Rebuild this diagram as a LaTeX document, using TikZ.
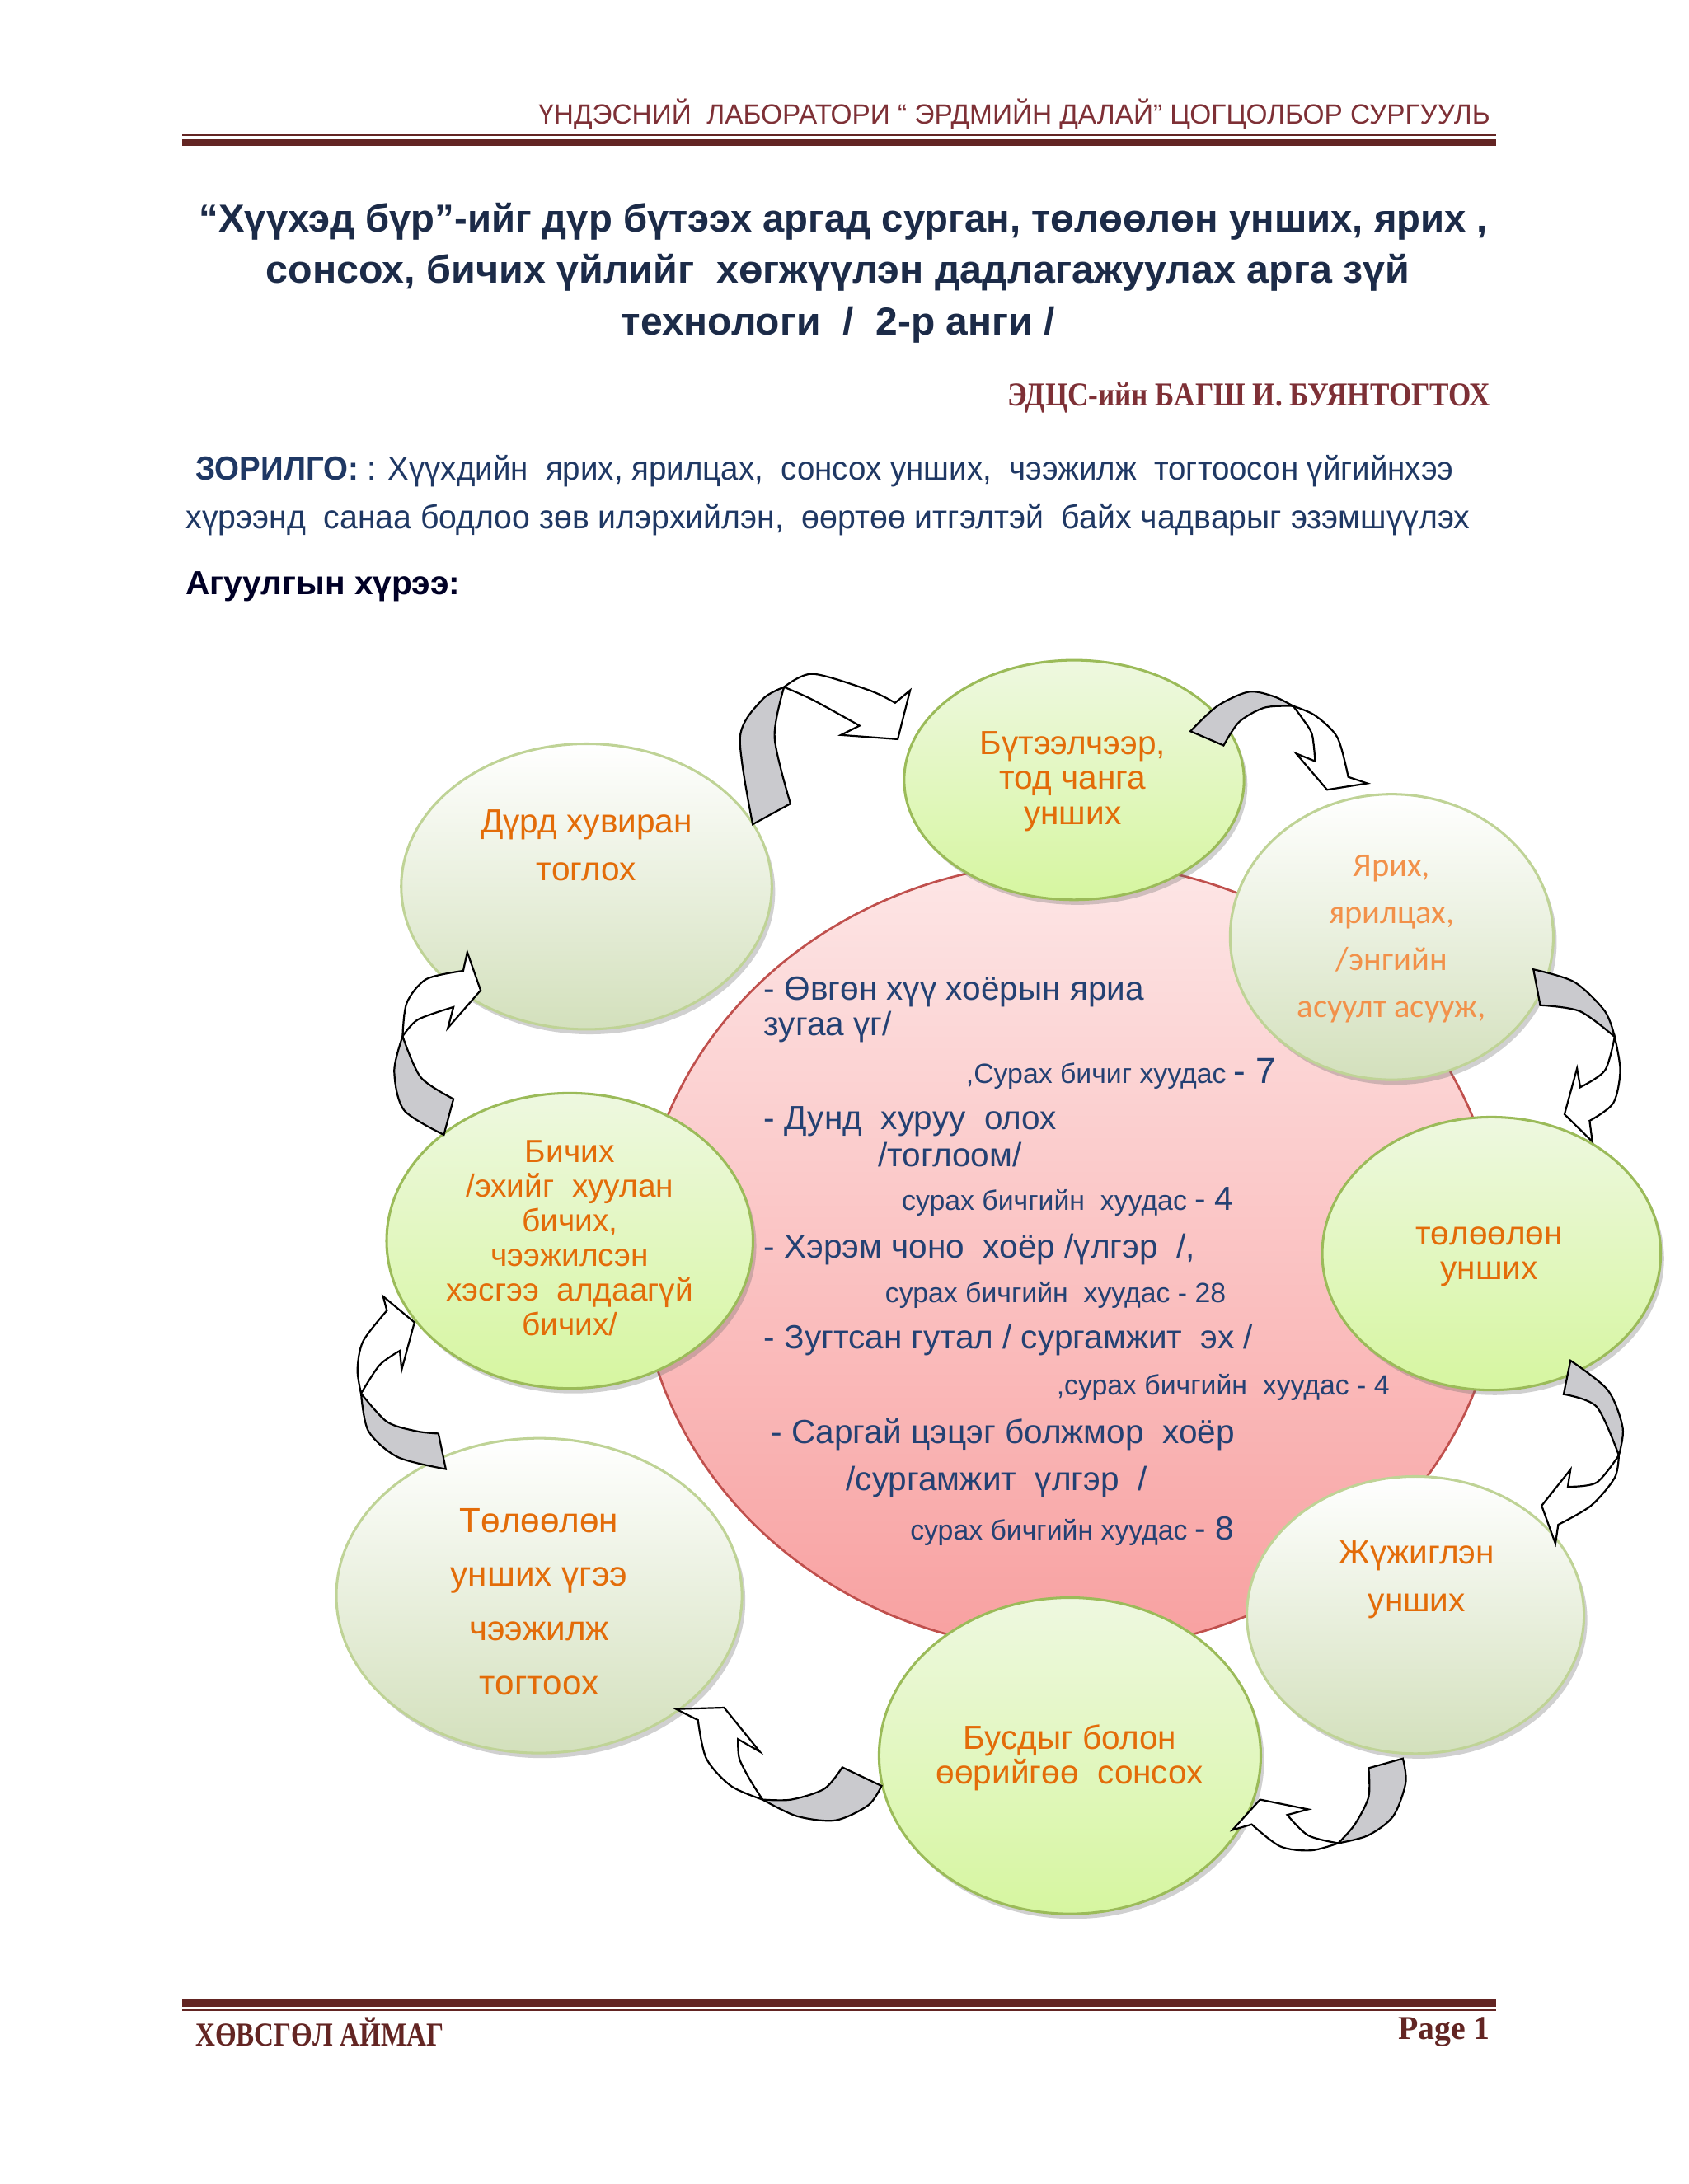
\documentclass[tikz,border=0pt]{standalone}
\usepackage{fontspec}
\usepackage{graphicx}
\setmainfont{Liberation Sans}
\newfontfamily\serifbf{Liberation Serif}
\newfontfamily\calib{Carlito}
\usetikzlibrary{shapes.geometric,shadows}
\definecolor{titlenavy}{HTML}{1C2B48}
\definecolor{bodynavy}{HTML}{1F3864}
\definecolor{coretext}{HTML}{244173}
\definecolor{maroon}{HTML}{632523}
\definecolor{headred}{HTML}{7E3036}
\definecolor{orangetxt}{HTML}{E36C09}
\definecolor{lightorange}{HTML}{F2914A}
\definecolor{limetop}{HTML}{EEF8E0}
\definecolor{limebot}{HTML}{D6F6A0}
\definecolor{limeline}{HTML}{9BBB59}
\definecolor{sagetop}{HTML}{FFFFFF}
\definecolor{sagebot}{HTML}{D3E0BC}
\definecolor{sageline}{HTML}{BFD396}
\definecolor{pinktop}{HTML}{FDE6E6}
\definecolor{pinkbot}{HTML}{F8A0A0}
\definecolor{pinkline}{HTML}{C0504D}
\definecolor{arrowgrey}{HTML}{CACACE}
\newsavebox\fitbox
\newcommand{\fitw}[2]{\sbox\fitbox{#2}\pgfmathsetmacro{\fitfac}{#1/\the\wd\fitbox}\scalebox{\fitfac}[1]{\usebox\fitbox}}
\tikzset{
  ellbase/.style={ellipse, inner sep=0pt, outer sep=0pt, line width=0.9pt,
    drop shadow={shadow xshift=1.2pt, shadow yshift=-1.8pt, opacity=0.3, fill=black!60}},
  limeell/.style={ellbase, draw=limeline, top color=limetop, bottom color=limebot},
  sageell/.style={ellbase, draw=sageline, top color=sagetop, bottom color=sagebot},
  pinkell/.style={ellipse, inner sep=0pt, draw=pinkline, line width=0.8pt, top color=pinktop, bottom color=pinkbot},
  etext/.style={text=orangetxt, align=center, inner sep=0pt, font=\fontsize{12}{12.5}\selectfont},
  ctext/.style={text=coretext, anchor=west, inner sep=0pt, font=\fontsize{12}{14}\selectfont},
  csmall/.style={text=coretext, anchor=west, inner sep=0pt, font=\fontsize{10}{12}\selectfont},
  arr/.style={draw=black, line width=0.65pt, line join=miter},
  arrg/.style={arr, fill=arrowgrey},
  arrw/.style={arr, fill=white},
  plain/.style={inner sep=0pt}
}
\begin{document}
\begin{tikzpicture}[x=0.5pt,y=-0.5pt]
\useasboundingbox (0,0) rectangle (1212,1568);
\fill[white] (0,0) rectangle (1212,1568);

% header
\node[plain, anchor=east, text=headred, font=\fontsize{10}{12}\selectfont] (header) at (1070,82)
  {\fitw{341.5}{ҮНДЭСНИЙ\ \ ЛАБОРАТОРИ “ ЭРДМИЙН ДАЛАЙ” ЦОГЦОЛБОР СУРГУУЛЬ}};
\fill[maroon] (131,96.4) rectangle (1074,97.6);
\fill[maroon] (131,100) rectangle (1074,105);

% title
\node[plain, text=titlenavy, font=\fontsize{14}{16}\selectfont\bfseries] (title1) at (605.5,159)
  {\fitw{462.5}{“Хүүхэд бүр”-ийг дүр бүтээх аргад сурган, төлөөлөн унших, ярих ,}};
\node[plain, text=titlenavy, font=\fontsize{14}{16}\selectfont\bfseries] (title2) at (601.5,196)
  {\fitw{410.5}{сонсох, бичих үйлийг\ \ хөгжүүлэн дадлагажуулах арга зүй}};
\node[plain, text=titlenavy, font=\fontsize{14}{16}\selectfont\bfseries] (title3) at (601.5,233)
  {\fitw{155.5}{технологи\ \ /\ \ 2-р анги /}};

\node[plain, anchor=east, text=headred, font=\fontsize{12}{14}\serifbf\bfseries] (author) at (1070,286)
  {\fitw{173}{ЭДЦС-ийн БАГШ И. БУЯНТОГТОХ}};

\node[plain, anchor=west, text=bodynavy, font=\fontsize{12}{14}\selectfont] (goal1) at (140,338)
  {\fitw{451.5}{\textbf{ЗОРИЛГО:} : Хүүхдийн\ \ ярих, ярилцах,\ \ сонсох унших,\ \ чээжилж\ \ тогтоосон үйгийнхээ}};
\node[plain, anchor=west, text=bodynavy, font=\fontsize{12}{14}\selectfont] (goal2) at (133,373)
  {\fitw{461}{хүрээнд\ \ санаа бодлоо зөв илэрхийлэн,\ \ өөртөө итгэлтэй\ \ байх чадварыг эзэмшүүлэх}};
\node[plain, anchor=west, text=black!85!blue, font=\fontsize{12}{14}\selectfont\bfseries] (content) at (133,421)
  {\fitw{98.5}{Агуулгын хүрээ:}};

% central pink ellipse
\node[pinkell, minimum width=309pt, minimum height=283pt] (core) at (768,902) {};

% surrounding ellipses
\node[limeell, minimum width=122pt, minimum height=86pt] (e1) at (771,560) {};
\node[sageell, minimum width=116pt, minimum height=102.5pt] (e2) at (999,672.7) {};
\node[limeell, minimum width=121.5pt, minimum height=98pt] (e3) at (1070.6,900) {};
\node[sageell, minimum width=121pt, minimum height=99.5pt] (e4) at (1016,1159.5) {};
\node[limeell, minimum width=137pt, minimum height=113.5pt] (e5) at (768,1260.5) {};
\node[sageell, minimum width=145.6pt, minimum height=113pt] (e6) at (387,1145.6) {};
\node[limeell, minimum width=131.5pt, minimum height=106pt] (e7) at (409,890.8) {};
\node[sageell, minimum width=133pt, minimum height=102.5pt] (e8) at (421,636.5) {};

% ellipse texts
\node[etext] (t1) at (770,561) {Бүтээлчээр,\\тод чанга\\унших};
\node[etext, text=lightorange, font=\fontsize{12}{16.9}\calib] (t2) at (999,674) {Ярих,\\ярилцах,\\/энгийн\\асуулт асууж,};
\node[etext] (t3) at (1069,902) {төлөөлөн\\унших};
\node[etext, font=\fontsize{12}{17}\selectfont] (t4) at (1017,1134) {Жүжиглэн\\унших};
\node[etext] (t5) at (768,1262) {Бусдыг болон\\өөрийгөө\ \ сонсох};
\node[etext, font=\fontsize{12.5}{19.5}\selectfont] (t6) at (387,1150) {Төлөөлөн\\унших үгээ\\чээжилж\\тогтоох};
\node[etext, font=\fontsize{11.5}{12.4}\selectfont] (t7) at (409,889) {Бичих\\/эхийг\ \ хуулан\\бичих,\\чээжилсэн\\хэсгээ\ \ алдаагүй\\бичих/};
\node[etext, font=\fontsize{12}{17}\selectfont] (t8) at (421,607) {Дүрд хувиран\\тоглох};

% texts inside the central ellipse
\node[ctext] (c1) at (548,712) {- Өвгөн хүү хоёрын яриа};
\node[ctext] (c2) at (548,737) {зугаа үг/};
\node[csmall] (c3) at (693,771) {,Сурах бичиг хуудас {\fontsize{13}{14}\selectfont - 7}};
\node[ctext] (c4) at (548,805) {- Дунд\ \ хуруу\ \ олох};
\node[ctext] (c5) at (630,829) {/тоглоом/};
\node[csmall] (c6) at (647,863) {сурах бичгийн\ \ хуудас {\fontsize{12}{14}\selectfont - 4}};
\node[ctext] (c7) at (548,897) {- Хэрэм чоно\ \ хоёр /үлгэр\ \ /,};
\node[csmall] (c8) at (635,930) {сурах бичгийн\ \ хуудас - 28};
\node[ctext] (c9) at (548,962) {- Зугтсан гутал / сургамжит\ \ эх /};
\node[csmall] (c10) at (758,996) {,сурах бичгийн\ \ хуудас - 4};
\node[ctext] (c11) at (553,1030) {- Саргай цэцэг болжмор\ \ хоёр};
\node[ctext] (c12) at (607,1064) {/сургамжит\ \ үлгэр\ \ /};
\node[csmall] (c13) at (653,1099) {сурах бичгийн хуудас {\fontsize{12}{14}\selectfont - 8}};

% curved block arrows
% A1: e8 -> e1
\filldraw[arrg] plot[smooth] coordinates {(540.3,591.8) (531.2,529.5) (547,502.4) (562.8,493.3)}
  -- plot[smooth] coordinates {(562.8,493.3) (556,529.5) (567.4,577)} -- cycle;
\filldraw[arrw] plot[smooth] coordinates {(562.8,493.3) (583.3,483.8) (624,495.6) (642.5,504.6)}
  -- (653.3,495.6) -- (644.4,530.7) -- (603.6,527.7)
  -- plot[smooth] coordinates {(617,521) (583.3,502.4) (562.8,493.3)} -- cycle;
% A2: e1 -> e2
\filldraw[arrg] plot[smooth] coordinates {(854.5,525) (873.8,506.9) (896.4,496.7) (914.6,500.1) (928.2,506.9)}
  -- plot[smooth] coordinates {(928.2,506.9) (907.8,508) (889.6,518.2) (878.3,535.2)} -- cycle;
\filldraw[arrw] plot[smooth] coordinates {(928.2,506.9) (944,513.7) (960,529.5) (967.8,557.8)}
  -- (981.4,562.4) -- (952.6,567) -- (930.4,541)
  -- plot[smooth] coordinates {(944,546.5) (941.8,527.3) (935,516) (928.2,506.9)} -- cycle;
% A3: e2 -> e3
\filldraw[arrg] plot[smooth] coordinates {(1100.7,696) (1130,705) (1152,726) (1159,744.4)}
  -- plot[smooth] coordinates {(1159,744.4) (1134,726) (1105.6,721.7)} -- cycle;
\filldraw[arrw] plot[smooth] coordinates {(1159,744.4) (1163,768.5) (1158,792) (1141,804.7)}
  -- (1143,819.6) -- (1123,800) -- (1132,767)
  -- plot[smooth] coordinates {(1134.3,780.6) (1152,768.5) (1159,744.4)} -- cycle;
% A4: e3 -> e4
\filldraw[arrg] plot[smooth] coordinates {(1127.3,976.8) (1154,997.9) (1164.8,1025) (1162,1044.8)}
  -- plot[smooth] coordinates {(1162,1044.8) (1146.1,1010) (1122.4,1001)} -- cycle;
\filldraw[arrw] plot[smooth] coordinates {(1162,1044.8) (1159,1061) (1142,1081) (1118.5,1094.6)}
  -- (1116.5,1108.2) -- (1106.6,1081) -- (1127.3,1055)
  -- plot[smooth] coordinates {(1125.4,1067.4) (1146,1064.4) (1162,1044.8)} -- cycle;
% A5: e4 -> e5
\filldraw[arrg] plot[smooth] coordinates {(1007,1262.5) (1009,1280) (1000,1304) (982,1317.7) (960.6,1323.3)}
  -- plot[smooth] coordinates {(960.6,1323.3) (972.5,1309.8) (982.4,1290) (982.4,1269.4)} -- cycle;
\filldraw[arrw] plot[smooth] coordinates {(960.6,1323.3) (941,1328.5) (919,1325.6) (898.5,1309.8)}
  -- (884.7,1313.8) -- (904.5,1292) -- (939,1299)
  -- plot[smooth] coordinates {(924,1303) (939,1317.7) (960.6,1323.3)} -- cycle;
% A6: e5 -> e6
\filldraw[arrg] plot[smooth] coordinates {(632.8,1282.2) (623.3,1296) (599.7,1306.9) (572,1303.9) (547.4,1292)}
  -- plot[smooth] coordinates {(547.4,1292) (568,1292) (591.8,1284.2) (604.6,1268.8)} -- cycle;
\filldraw[arrw] plot[smooth] coordinates {(547.4,1292) (524.7,1282.2) (507,1262.5) (501,1234.9)}
  -- (485.3,1227) -- (519.8,1226) -- (545.4,1257.6)
  -- plot[smooth] coordinates {(529.7,1248.6) (530.7,1262.5) (538.5,1278) (547.4,1292)} -- cycle;
% A7: e6 -> e7
\filldraw[arrg] plot[smooth] coordinates {(320,1054.7) (285.7,1046.2) (264.5,1027.5) (259.2,1000.4)}
  -- plot[smooth] coordinates {(259.2,1000.4) (277.7,1020.7) (298.9,1027.5) (314.7,1029.2)} -- cycle;
\filldraw[arrw] plot[smooth] coordinates {(259.2,1000.4) (256.6,983.4) (260.6,963) (277.7,940.9)}
  -- (275,930.7) -- (297.5,949.4) -- (288.3,983.4)
  -- plot[smooth] coordinates {(287,969.8) (272.5,980) (259.2,1000.4)} -- cycle;
% A8: e7 -> e8
\filldraw[arrg] plot[smooth] coordinates {(318.6,814.7) (290,797) (283,769) (289,744)}
  -- plot[smooth] coordinates {(289,744) (302,773.4) (325.5,789)} -- cycle;
\filldraw[arrw] plot[smooth] coordinates {(289,744) (292,720) (306,703) (332.5,697)}
  -- (335.4,683.6) -- (345,711) -- (321.5,738)
  -- plot[smooth] coordinates {(325.5,723) (300,732) (289,744)} -- cycle;

% footer
\fill[maroon] (131,1435.5) rectangle (1074,1441);
\fill[maroon] (131,1442.5) rectangle (1074,1444);
\node[plain, anchor=west, text=maroon, font=\fontsize{12}{14}\serifbf\bfseries] (footl) at (140,1459)
  {\fitw{89}{ХӨВСГӨЛ АЙМАГ}};
\node[plain, anchor=east, text=maroon, font=\fontsize{12}{14}\serifbf\bfseries] (footr) at (1070,1459)
  {\fitw{33}{Page 1}};
\end{tikzpicture}
\end{document}
